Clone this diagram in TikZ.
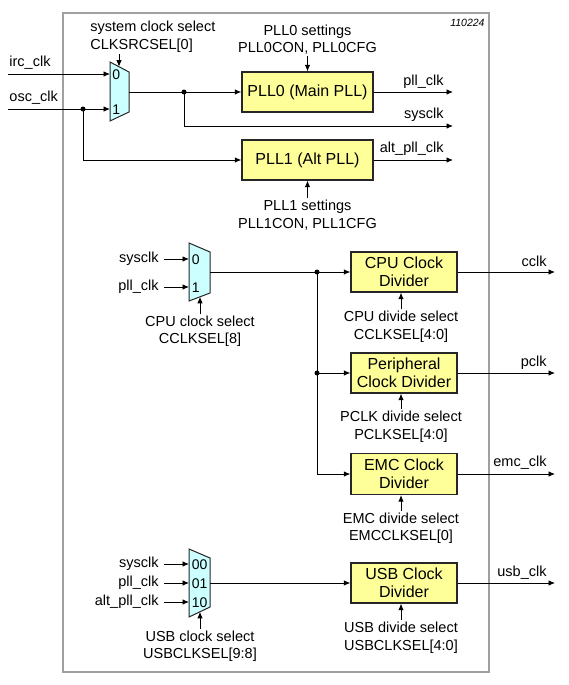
\documentclass[tikz,border=0pt]{standalone}
\usepackage{fontspec}
\setmainfont{Liberation Sans}
\usetikzlibrary{arrows.meta}
\definecolor{blkfill}{HTML}{FFFF99}
\definecolor{muxfill}{HTML}{CCFFFF}
\definecolor{framegray}{HTML}{A0A0A0}
\begin{document}
\begin{tikzpicture}[x=1pt,y=-1pt,line width=0.9pt,
  lbl/.style={font=\fontsize{14.5}{17.5}\selectfont,inner sep=1.5pt,align=center},
  sig/.style={font=\fontsize{14.5}{17.5}\selectfont,inner sep=0pt,text height=10.5pt,text depth=3pt},
  port/.style={font=\fontsize{14}{16}\selectfont,inner sep=0pt,anchor=west,text height=10pt,text depth=0pt},
  blk/.style={draw=black!85,fill=blkfill,line width=1.2pt,font=\fontsize{16}{18}\selectfont,align=center,inner sep=0pt},
  mux/.style={draw=black!85,fill=muxfill,line width=1pt},
  ar/.style={-{Latex[length=6.5pt,width=5.5pt]}},
  dot/.style={circle,fill=black,inner sep=0pt,minimum size=5pt}]
\useasboundingbox (0,0) rectangle (569,685);
% frame
\draw[framegray,line width=1.1pt] (63,13) rectangle (489,672);
\node[anchor=east,inner sep=0pt,font=\fontsize{10.5}{12}\selectfont\itshape] (ver) at (485,23) {110224};

% ---------- top section ----------
\draw[mux] (110,62) -- (129,72) -- (129,112) -- (110,121) -- cycle;
\coordinate (m1a) at (110,74);
\coordinate (m1b) at (110,109);
\coordinate (m1o) at (129,92);
\coordinate (m1s) at (119,66.7);
\node[port] (m1p0) at (112,74) {0};
\node[port] (m1p1) at (112,109) {1};

\node[lbl,align=left,anchor=west,inner sep=0pt] (selsys) at (90,37) {system clock select\\CLKSRCSEL[0]};
\draw[ar] (selsys.south -| m1s) ++(0,1.5) -- (m1s);

\coordinate (irc) at (8,74);
\coordinate (osc) at (8,109);
\node[sig,anchor=south west] (irclbl) at (9,70) {irc\_clk};
\node[sig,anchor=south west] (osclbl) at (9,105) {osc\_clk};
\draw[ar] (irc) -- (m1a);
\draw[ar] (osc) -- (m1b);

\node[blk,minimum width=131pt,minimum height=40pt] (pll0) at (307.5,92) {PLL0 (Main PLL)};
\node[blk,minimum width=131pt,minimum height=40pt] (pll1) at (307.5,160) {PLL1 (Alt PLL)};

\node[lbl] (pll0set) at (307.5,39.5) {PLL0 settings\\PLL0CON, PLL0CFG};
\node[lbl] (pll1set) at (307.5,215) {PLL1 settings\\PLL1CON, PLL1CFG};
\draw[ar] (pll0set.south) -- (pll0.north);
\draw[ar] (pll1set.north) -- (pll1.south);

\node[dot] (d1) at (83,109) {};
\node[dot] (d2) at (184,92) {};
\draw[ar] (m1o) -- (pll0.west);
\draw[ar] (d1.center) |- (pll1.west);
\coordinate (sysout) at (453,126);
\coordinate (pllout) at (453,92);
\coordinate (altout) at (453,160);
\draw[ar] (d2.center) |- (sysout);
\draw[ar] (pll0.east) -- (pllout);
\draw[ar] (pll1.east) -- (altout);
\node[sig,anchor=east] (pllclklbl) at (444,82) {pll\_clk};
\node[sig,anchor=east] (sysclklbl) at (444,115) {sysclk};
\node[sig,anchor=east] (altlbl) at (444,149) {alt\_pll\_clk};

% ---------- CPU mux ----------
\draw[mux] (189,243) -- (210,252) -- (210,293) -- (189,301) -- cycle;
\coordinate (m2a) at (189,259);
\coordinate (m2b) at (189,287);
\coordinate (m2o) at (210,272);
\coordinate (m2s) at (200,296.8);
\node[port] (m2p0) at (191.5,259) {0};
\node[port] (m2p1) at (191.5,287) {1};
\node[sig,anchor=east] (m2in0) at (159,259) {sysclk};
\node[sig,anchor=east] (m2in1) at (159,287) {pll\_clk};
\draw[ar] ([xshift=5pt]m2in0.east) -- (m2a);
\draw[ar] ([xshift=5pt]m2in1.east) -- (m2b);
\node[lbl] (cpusel) at (200,331) {CPU clock select\\CCLKSEL[8]};
\draw[ar] (cpusel.north) -- (m2s);

% ---------- dividers ----------
\node[blk,minimum width=106pt,minimum height=40pt] (cpu) at (404,272) {CPU Clock\\Divider};
\node[blk,minimum width=106pt,minimum height=40pt] (per) at (404,373) {Peripheral\\Clock Divider};
\node[blk,minimum width=106pt,minimum height=41pt] (emc) at (404,474) {EMC Clock\\Divider};
\node[blk,minimum width=106pt,minimum height=40pt] (usb) at (404,583) {USB Clock\\Divider};

\node[dot] (d3) at (317,272) {};
\node[dot] (d4) at (317,373) {};
\draw[ar] (m2o) -- (cpu.west);
\draw[ar] (d4.center) -- (per.west);
\draw[ar] (d3.center) |- (emc.west);

\coordinate (cclkout) at (555,272);
\coordinate (pclkout) at (555,373);
\coordinate (emcout) at (555,474);
\coordinate (usbout) at (555,583);
\draw[ar] (cpu.east) -- (cclkout);
\draw[ar] (per.east) -- (pclkout);
\draw[ar] (emc.east) -- (emcout);
\draw[ar] (usb.east) -- (usbout);
\node[sig,anchor=east] (cclklbl) at (547,263) {cclk};
\node[sig,anchor=east] (pclklbl) at (547,363) {pclk};
\node[sig,anchor=east] (emclbl) at (547,463) {emc\_clk};
\node[sig,anchor=east] (usblbl) at (547,573) {usb\_clk};

\node[lbl] (cpudiv) at (401,326.5) {CPU divide select\\CCLKSEL[4:0]};
\node[lbl] (perdiv) at (401,426.5) {PCLK divide select\\PCLKSEL[4:0]};
\node[lbl] (emcdiv) at (401,528) {EMC divide select\\EMCCLKSEL[0]};
\node[lbl] (usbdiv) at (401,637.5) {USB divide select\\USBCLKSEL[4:0]};
\draw[ar] (cpudiv.north) -- (cpudiv.north |- cpu.south);
\draw[ar] (perdiv.north) -- (perdiv.north |- per.south);
\draw[ar] (emcdiv.north) -- (emcdiv.north |- emc.south);
\draw[ar] (usbdiv.north) -- (usbdiv.north |- usb.south);

% ---------- USB mux ----------
\draw[mux] (189,549) -- (210,558) -- (210,607) -- (189,617) -- cycle;
\coordinate (m3a) at (189,564);
\coordinate (m3b) at (189,583);
\coordinate (m3c) at (189,602);
\coordinate (m3o) at (210,583);
\coordinate (m3s) at (200,611.8);
\node[port] (m3p0) at (191.5,564) {00};
\node[port] (m3p1) at (191.5,583) {01};
\node[port] (m3p2) at (191.5,602) {10};
\node[sig,anchor=east] (m3in0) at (159,564) {sysclk};
\node[sig,anchor=east] (m3in1) at (159,583) {pll\_clk};
\node[sig,anchor=east] (m3in2) at (159,602) {alt\_pll\_clk};
\draw[ar] ([xshift=5pt]m3in0.east) -- (m3a);
\draw[ar] ([xshift=5pt]m3in1.east) -- (m3b);
\draw[ar] ([xshift=5pt]m3in2.east) -- (m3c);
\draw[ar] (m3o) -- (usb.west);
\node[lbl] (usbsel) at (200,646) {USB clock select\\USBCLKSEL[9:8]};
\draw[ar] (usbsel.north) -- (m3s);
\end{tikzpicture}
\end{document}
